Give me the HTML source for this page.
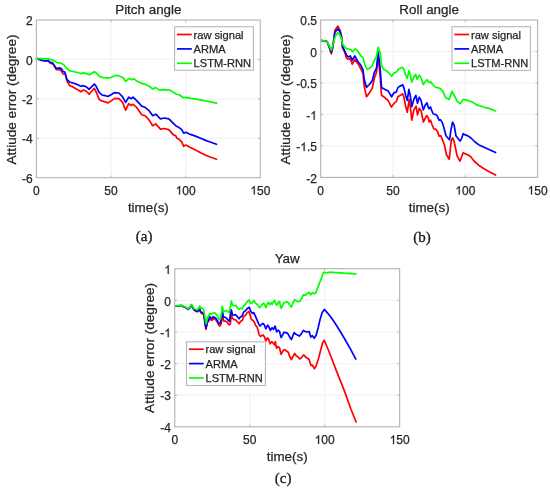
<!DOCTYPE html>
<html><head><meta charset="utf-8"><style>
html,body{margin:0;padding:0;background:#fff;width:550px;height:488px;overflow:hidden}
svg{display:block;filter:blur(0.4px)}
text{font-family:"Liberation Sans",sans-serif;fill:#262626;stroke:#262626;stroke-width:0.25px}
.tk{font-size:12px}
.h1{fill:none;stroke:none}
.g1{fill:#262626;stroke:#262626;stroke-width:40px}
.lb{font-size:13.4px}
.yl{font-size:13.6px}
.lg{font-size:11.1px}
.cap{font-family:"Liberation Serif",serif;font-size:15px;fill:#1a1a1a;stroke:#1a1a1a;stroke-width:0.3px}
</style></head><body>
<svg width="550" height="488" viewBox="0 0 550 488">
<rect width="550" height="488" fill="#fff"/>
<line x1="111.03" y1="20.0" x2="111.03" y2="177.7" stroke="#f3f3f3" stroke-width="1.3"/>
<line x1="185.67" y1="20.0" x2="185.67" y2="177.7" stroke="#f3f3f3" stroke-width="1.3"/>
<line x1="36.4" y1="59.42" x2="260.3" y2="59.42" stroke="#f3f3f3" stroke-width="1.3"/>
<line x1="36.4" y1="98.85" x2="260.3" y2="98.85" stroke="#f3f3f3" stroke-width="1.3"/>
<line x1="36.4" y1="138.27" x2="260.3" y2="138.27" stroke="#f3f3f3" stroke-width="1.3"/>
<line x1="111.03" y1="177.7" x2="111.03" y2="175.5" stroke="#b8b8b8" stroke-width="1"/>
<line x1="111.03" y1="20.0" x2="111.03" y2="22.2" stroke="#b8b8b8" stroke-width="1"/>
<line x1="185.67" y1="177.7" x2="185.67" y2="175.5" stroke="#b8b8b8" stroke-width="1"/>
<line x1="185.67" y1="20.0" x2="185.67" y2="22.2" stroke="#b8b8b8" stroke-width="1"/>
<line x1="36.4" y1="59.42" x2="38.6" y2="59.42" stroke="#b8b8b8" stroke-width="1"/>
<line x1="260.3" y1="59.42" x2="258.1" y2="59.42" stroke="#b8b8b8" stroke-width="1"/>
<line x1="36.4" y1="98.85" x2="38.6" y2="98.85" stroke="#b8b8b8" stroke-width="1"/>
<line x1="260.3" y1="98.85" x2="258.1" y2="98.85" stroke="#b8b8b8" stroke-width="1"/>
<line x1="36.4" y1="138.27" x2="38.6" y2="138.27" stroke="#b8b8b8" stroke-width="1"/>
<line x1="260.3" y1="138.27" x2="258.1" y2="138.27" stroke="#b8b8b8" stroke-width="1"/>
<text x="36.40" y="194.50" class="tk" text-anchor="middle">0</text>
<text x="111.03" y="194.50" class="tk" text-anchor="middle">50</text>
<text x="185.67" y="194.50" class="tk" text-anchor="middle"><tspan class="h1">1</tspan>00</text>
<path d="M763,0L583,0L583,1147Q430,1010 223,905L223,1079Q380,1160 480,1260Q580,1360 646,1466L763,1466Z" transform="translate(175.656,194.50) scale(0.005859,-0.005859)" class="g1"/>
<text x="260.30" y="194.50" class="tk" text-anchor="middle"><tspan class="h1">1</tspan>50</text>
<path d="M763,0L583,0L583,1147Q430,1010 223,905L223,1079Q380,1160 480,1260Q580,1360 646,1466L763,1466Z" transform="translate(250.289,194.50) scale(0.005859,-0.005859)" class="g1"/>
<text x="32.60" y="25.20" class="tk" text-anchor="end">2</text>
<text x="32.60" y="64.62" class="tk" text-anchor="end">0</text>
<text x="32.60" y="104.05" class="tk" text-anchor="end">-2</text>
<text x="32.60" y="143.47" class="tk" text-anchor="end">-4</text>
<text x="32.60" y="182.90" class="tk" text-anchor="end">-6</text>
<text x="148.35" y="14.3" class="lb" text-anchor="middle">Pitch angle</text>
<text x="148.35" y="212.1" class="lb" text-anchor="middle">time(s)</text>
<text transform="translate(15.9,99.5) rotate(-90)" x="0" y="0" class="yl" text-anchor="middle">Attiude error (degree)</text>
<polyline points="36.5,58.6 37.8,58.9 42.2,60.5 48.3,61.1 50.8,63.3 53.2,63.8 56.3,69.7 59.4,69.4 61.8,71.5 63.0,74.0 65.5,74.6 67.4,82.0 69.8,85.7 72.9,86.9 77.2,89.4 80.9,91.8 83.4,90.0 86.4,91.2 89.1,94.3 94.3,88.3 96.2,92.0 99.2,99.4 102.3,101.2 105.4,101.8 107.8,103.0 111.5,100.6 114.6,98.4 118.9,98.7 122.6,102.4 125.7,110.2 128.7,103.7 131.2,105.5 133.0,104.3 136.7,107.4 141.7,114.7 145.0,115.7 148.8,119.6 152.7,125.7 155.8,123.9 160.4,129.1 164.2,128.5 168.8,129.6 173.4,134.9 175.5,135.5 177.0,138.3 179.1,139.3 181.7,141.9 183.7,146.3 185.8,145.1 190.4,147.5 195.5,150.1 200.6,152.7 205.7,155.2 210.9,157.3 216.5,159.3" fill="none" stroke="#ff0000" stroke-width="1.7" stroke-linejoin="round" stroke-linecap="round"/>
<polyline points="36.5,58.6 37.8,58.9 42.2,60.5 45.8,60.8 48.3,60.5 50.1,62.3 52.6,62.9 56.3,68.5 59.4,67.8 61.8,69.1 63.0,71.5 64.9,72.1 66.8,79.5 69.8,82.2 72.9,83.0 77.2,84.4 80.9,86.3 83.4,85.7 86.4,86.9 89.1,89.4 94.3,84.0 96.2,86.4 99.2,92.6 102.3,95.1 105.4,95.7 107.8,96.4 111.5,94.4 114.6,92.6 118.9,93.0 122.6,96.9 125.7,102.4 128.7,97.1 131.2,98.7 133.0,97.1 136.7,100.6 141.7,106.1 145.0,107.3 148.8,110.3 152.7,115.7 155.8,114.2 160.4,118.8 164.2,118.0 168.8,118.8 173.4,123.4 176.0,126.0 179.1,127.6 181.7,129.6 183.7,133.2 185.8,132.2 190.4,134.4 195.5,136.1 200.6,138.3 205.7,140.4 210.9,142.2 216.5,144.3" fill="none" stroke="#0000ff" stroke-width="1.7" stroke-linejoin="round" stroke-linecap="round"/>
<polyline points="36.5,58.6 37.8,58.4 43.4,58.9 48.3,58.9 52.0,59.8 55.7,61.7 57.5,62.9 60.6,62.9 63.7,64.8 66.8,68.5 69.8,70.9 72.9,71.5 77.8,72.5 81.5,73.6 83.4,72.9 86.4,73.6 89.5,74.8 94.3,71.7 96.2,72.9 99.8,76.6 103.5,77.6 108.5,78.2 111.5,77.2 114.6,75.7 118.9,75.7 123.2,77.8 125.7,81.5 128.7,78.5 131.8,79.7 133.7,78.7 136.7,80.9 141.7,83.4 145.0,84.2 149.6,86.5 152.7,89.1 155.8,87.6 159.6,90.1 163.4,89.6 169.6,90.1 173.4,92.2 176.5,94.2 179.6,95.0 183.4,97.7 185.7,97.3 191.1,98.4 198.8,99.6 206.5,101.1 216.5,103.1" fill="none" stroke="#00ff00" stroke-width="1.7" stroke-linejoin="round" stroke-linecap="round"/>
<rect x="36.4" y="20.0" width="223.90" height="157.70" fill="none" stroke="#b8b8b8" stroke-width="1.2"/>
<rect x="174.6" y="26.7" width="78.80" height="43.50" fill="#fff" stroke="#b8b8b8" stroke-width="1.1"/>
<line x1="177.00" y1="34.5" x2="191.80" y2="34.5" stroke="#ff0000" stroke-width="1.7"/>
<text x="193.60" y="38.60" class="lg">raw signal</text>
<line x1="177.00" y1="48.9" x2="191.80" y2="48.9" stroke="#0000ff" stroke-width="1.7"/>
<text x="193.60" y="53.00" class="lg">ARMA</text>
<line x1="177.00" y1="63.3" x2="191.80" y2="63.3" stroke="#00ff00" stroke-width="1.7"/>
<text x="193.60" y="67.40" class="lg">LSTM-RNN</text>
<line x1="393.00" y1="20.0" x2="393.00" y2="177.4" stroke="#f3f3f3" stroke-width="1.3"/>
<line x1="465.30" y1="20.0" x2="465.30" y2="177.4" stroke="#f3f3f3" stroke-width="1.3"/>
<line x1="320.7" y1="51.48" x2="537.6" y2="51.48" stroke="#f3f3f3" stroke-width="1.3"/>
<line x1="320.7" y1="82.96" x2="537.6" y2="82.96" stroke="#f3f3f3" stroke-width="1.3"/>
<line x1="320.7" y1="114.44" x2="537.6" y2="114.44" stroke="#f3f3f3" stroke-width="1.3"/>
<line x1="320.7" y1="145.92" x2="537.6" y2="145.92" stroke="#f3f3f3" stroke-width="1.3"/>
<line x1="393.00" y1="177.4" x2="393.00" y2="175.20000000000002" stroke="#b8b8b8" stroke-width="1"/>
<line x1="393.00" y1="20.0" x2="393.00" y2="22.2" stroke="#b8b8b8" stroke-width="1"/>
<line x1="465.30" y1="177.4" x2="465.30" y2="175.20000000000002" stroke="#b8b8b8" stroke-width="1"/>
<line x1="465.30" y1="20.0" x2="465.30" y2="22.2" stroke="#b8b8b8" stroke-width="1"/>
<line x1="320.7" y1="51.48" x2="322.9" y2="51.48" stroke="#b8b8b8" stroke-width="1"/>
<line x1="537.6" y1="51.48" x2="535.4" y2="51.48" stroke="#b8b8b8" stroke-width="1"/>
<line x1="320.7" y1="82.96" x2="322.9" y2="82.96" stroke="#b8b8b8" stroke-width="1"/>
<line x1="537.6" y1="82.96" x2="535.4" y2="82.96" stroke="#b8b8b8" stroke-width="1"/>
<line x1="320.7" y1="114.44" x2="322.9" y2="114.44" stroke="#b8b8b8" stroke-width="1"/>
<line x1="537.6" y1="114.44" x2="535.4" y2="114.44" stroke="#b8b8b8" stroke-width="1"/>
<line x1="320.7" y1="145.92" x2="322.9" y2="145.92" stroke="#b8b8b8" stroke-width="1"/>
<line x1="537.6" y1="145.92" x2="535.4" y2="145.92" stroke="#b8b8b8" stroke-width="1"/>
<text x="320.70" y="194.50" class="tk" text-anchor="middle">0</text>
<text x="393.00" y="194.50" class="tk" text-anchor="middle">50</text>
<text x="465.30" y="194.50" class="tk" text-anchor="middle"><tspan class="h1">1</tspan>00</text>
<path d="M763,0L583,0L583,1147Q430,1010 223,905L223,1079Q380,1160 480,1260Q580,1360 646,1466L763,1466Z" transform="translate(455.289,194.50) scale(0.005859,-0.005859)" class="g1"/>
<text x="537.60" y="194.50" class="tk" text-anchor="middle"><tspan class="h1">1</tspan>50</text>
<path d="M763,0L583,0L583,1147Q430,1010 223,905L223,1079Q380,1160 480,1260Q580,1360 646,1466L763,1466Z" transform="translate(527.589,194.50) scale(0.005859,-0.005859)" class="g1"/>
<text x="316.90" y="25.20" class="tk" text-anchor="end">0.5</text>
<text x="316.90" y="56.68" class="tk" text-anchor="end">0</text>
<text x="316.90" y="88.16" class="tk" text-anchor="end">-0.5</text>
<text x="316.90" y="119.64" class="tk" text-anchor="end">-<tspan class="h1">1</tspan></text>
<path d="M763,0L583,0L583,1147Q430,1010 223,905L223,1079Q380,1160 480,1260Q580,1360 646,1466L763,1466Z" transform="translate(310.226,119.64) scale(0.005859,-0.005859)" class="g1"/>
<text x="316.90" y="151.12" class="tk" text-anchor="end">-<tspan class="h1">1</tspan>.5</text>
<path d="M763,0L583,0L583,1147Q430,1010 223,905L223,1079Q380,1160 480,1260Q580,1360 646,1466L763,1466Z" transform="translate(300.218,151.12) scale(0.005859,-0.005859)" class="g1"/>
<text x="316.90" y="182.60" class="tk" text-anchor="end">-2</text>
<text x="429.15" y="14.3" class="lb" text-anchor="middle">Roll angle</text>
<text x="429.15" y="212.1" class="lb" text-anchor="middle">time(s)</text>
<text transform="translate(289.8,99.5) rotate(-90)" x="0" y="0" class="yl" text-anchor="middle">Attiude error (degree)</text>
<polyline points="321.2,40.5 322.0,40.5 327.2,41.7 329.2,47.2 331.3,53.8 332.8,47.7 334.9,30.2 337.9,26.1 340.0,30.2 341.5,36.0 342.5,47.7 344.6,51.8 346.6,58.4 348.2,59.4 350.2,58.4 352.3,64.1 354.8,59.4 357.9,63.7 360.7,68.7 362.9,73.0 364.3,86.6 366.5,96.7 369.3,93.1 372.2,88.1 374.4,78.0 376.5,72.3 378.2,56.5 380.1,75.2 381.5,95.3 385.0,97.8 388.2,100.5 391.3,107.0 394.0,103.4 396.2,101.7 397.9,96.8 399.9,95.5 402.8,93.9 404.0,97.6 405.7,106.6 407.3,112.3 409.1,99.6 410.6,109.0 411.8,120.1 413.9,109.9 416.1,106.2 417.5,114.8 419.4,108.2 421.1,110.7 423.3,122.0 426.6,115.6 428.2,117.5 429.2,122.0 430.5,120.2 432.1,124.7 433.7,128.8 435.8,129.2 437.4,131.2 439.1,136.1 440.7,135.7 442.3,139.4 444.4,145.0 446.5,154.7 449.2,159.3 451.2,141.0 452.6,137.8 454.2,141.9 455.5,148.0 457.0,155.6 459.9,161.2 463.1,152.9 467.7,154.7 470.5,156.5 474.0,161.0 478.7,165.2 484.0,168.8 489.2,171.7 495.6,175.1" fill="none" stroke="#ff0000" stroke-width="1.7" stroke-linejoin="round" stroke-linecap="round"/>
<polyline points="321.2,40.5 322.0,40.5 327.2,41.7 329.2,46.6 331.3,52.3 332.8,46.6 334.9,32.3 337.9,28.7 340.0,31.8 341.5,36.9 342.5,46.6 344.6,50.7 346.6,55.3 348.2,56.9 350.2,55.9 352.3,60.0 354.8,55.9 357.9,61.5 360.7,65.1 362.9,69.4 364.3,79.5 366.5,87.4 369.3,84.5 372.2,80.9 374.4,72.3 376.5,68.0 378.2,52.2 380.1,68.0 381.5,87.4 385.1,89.5 388.3,91.1 391.6,96.8 394.0,92.7 396.2,92.2 397.9,87.7 399.9,86.1 402.8,84.9 404.0,88.1 405.7,95.5 407.3,100.4 408.9,89.4 410.2,95.1 411.8,106.6 413.9,99.2 415.9,95.5 417.5,103.3 419.2,97.2 420.8,99.6 423.3,109.9 425.3,105.0 427.0,102.9 428.3,107.5 429.2,108.7 430.5,107.0 431.7,110.3 433.3,114.0 435.4,114.4 437.0,115.7 439.1,120.2 440.7,119.8 442.3,122.6 444.4,129.6 446.0,135.7 447.7,137.8 449.5,139.8 451.0,129.6 452.6,122.2 454.2,125.5 455.9,135.7 457.5,137.8 460.0,141.1 461.6,138.6 463.2,133.7 465.3,134.9 468.0,135.9 471.0,138.0 475.0,142.0 479.0,144.9 484.1,147.3 489.5,149.8 495.6,152.5" fill="none" stroke="#0000ff" stroke-width="1.7" stroke-linejoin="round" stroke-linecap="round"/>
<polyline points="321.2,40.5 322.0,40.5 325.1,41.0 327.2,41.7 329.2,45.6 331.3,50.2 332.8,45.6 334.9,37.4 337.4,32.8 339.5,34.3 341.5,38.4 342.5,44.1 344.6,46.6 346.6,48.7 348.7,49.2 350.7,49.7 352.8,51.8 355.3,48.7 357.9,51.5 360.7,55.8 362.9,57.2 365.0,65.1 367.2,69.4 369.3,68.3 372.2,65.8 374.4,60.1 376.5,56.5 378.2,47.2 380.1,52.2 381.5,65.1 383.7,69.4 386.6,70.9 388.3,72.2 391.6,76.3 394.0,73.0 396.2,72.3 398.3,69.4 400.3,68.2 402.8,67.4 404.0,69.8 405.7,75.2 407.3,78.4 408.9,70.7 410.2,74.3 411.8,82.1 413.4,78.0 415.5,74.3 417.1,79.3 419.2,75.2 420.8,77.2 423.3,84.6 425.3,81.7 427.0,79.7 429.0,82.5 430.7,81.7 432.3,84.2 435.0,87.0 438.3,87.8 440.5,88.8 442.8,91.1 445.5,97.5 449.2,99.4 452.0,91.4 454.8,96.6 457.5,101.8 460.3,103.6 463.1,99.4 467.7,100.3 472.3,102.1 476.9,104.9 484.3,107.3 489.8,108.6 495.6,111.0" fill="none" stroke="#00ff00" stroke-width="1.7" stroke-linejoin="round" stroke-linecap="round"/>
<rect x="320.7" y="20.0" width="216.90" height="157.40" fill="none" stroke="#b8b8b8" stroke-width="1.2"/>
<rect x="452.0" y="26.7" width="78.40" height="43.60" fill="#fff" stroke="#b8b8b8" stroke-width="1.1"/>
<line x1="454.40" y1="34.5" x2="469.20" y2="34.5" stroke="#ff0000" stroke-width="1.7"/>
<text x="471.00" y="38.60" class="lg">raw signal</text>
<line x1="454.40" y1="48.9" x2="469.20" y2="48.9" stroke="#0000ff" stroke-width="1.7"/>
<text x="471.00" y="53.00" class="lg">ARMA</text>
<line x1="454.40" y1="63.3" x2="469.20" y2="63.3" stroke="#00ff00" stroke-width="1.7"/>
<text x="471.00" y="67.40" class="lg">LSTM-RNN</text>
<line x1="249.70" y1="268.7" x2="249.70" y2="426.8" stroke="#f3f3f3" stroke-width="1.3"/>
<line x1="324.65" y1="268.7" x2="324.65" y2="426.8" stroke="#f3f3f3" stroke-width="1.3"/>
<line x1="174.75" y1="300.32" x2="399.6" y2="300.32" stroke="#f3f3f3" stroke-width="1.3"/>
<line x1="174.75" y1="331.94" x2="399.6" y2="331.94" stroke="#f3f3f3" stroke-width="1.3"/>
<line x1="174.75" y1="363.56" x2="399.6" y2="363.56" stroke="#f3f3f3" stroke-width="1.3"/>
<line x1="174.75" y1="395.18" x2="399.6" y2="395.18" stroke="#f3f3f3" stroke-width="1.3"/>
<line x1="249.70" y1="426.8" x2="249.70" y2="424.6" stroke="#b8b8b8" stroke-width="1"/>
<line x1="249.70" y1="268.7" x2="249.70" y2="270.9" stroke="#b8b8b8" stroke-width="1"/>
<line x1="324.65" y1="426.8" x2="324.65" y2="424.6" stroke="#b8b8b8" stroke-width="1"/>
<line x1="324.65" y1="268.7" x2="324.65" y2="270.9" stroke="#b8b8b8" stroke-width="1"/>
<line x1="174.75" y1="300.32" x2="176.95" y2="300.32" stroke="#b8b8b8" stroke-width="1"/>
<line x1="399.6" y1="300.32" x2="397.40000000000003" y2="300.32" stroke="#b8b8b8" stroke-width="1"/>
<line x1="174.75" y1="331.94" x2="176.95" y2="331.94" stroke="#b8b8b8" stroke-width="1"/>
<line x1="399.6" y1="331.94" x2="397.40000000000003" y2="331.94" stroke="#b8b8b8" stroke-width="1"/>
<line x1="174.75" y1="363.56" x2="176.95" y2="363.56" stroke="#b8b8b8" stroke-width="1"/>
<line x1="399.6" y1="363.56" x2="397.40000000000003" y2="363.56" stroke="#b8b8b8" stroke-width="1"/>
<line x1="174.75" y1="395.18" x2="176.95" y2="395.18" stroke="#b8b8b8" stroke-width="1"/>
<line x1="399.6" y1="395.18" x2="397.40000000000003" y2="395.18" stroke="#b8b8b8" stroke-width="1"/>
<text x="174.75" y="443.90" class="tk" text-anchor="middle">0</text>
<text x="249.70" y="443.90" class="tk" text-anchor="middle">50</text>
<text x="324.65" y="443.90" class="tk" text-anchor="middle"><tspan class="h1">1</tspan>00</text>
<path d="M763,0L583,0L583,1147Q430,1010 223,905L223,1079Q380,1160 480,1260Q580,1360 646,1466L763,1466Z" transform="translate(314.639,443.90) scale(0.005859,-0.005859)" class="g1"/>
<text x="399.60" y="443.90" class="tk" text-anchor="middle"><tspan class="h1">1</tspan>50</text>
<path d="M763,0L583,0L583,1147Q430,1010 223,905L223,1079Q380,1160 480,1260Q580,1360 646,1466L763,1466Z" transform="translate(389.589,443.90) scale(0.005859,-0.005859)" class="g1"/>
<text x="170.95" y="273.90" class="tk" text-anchor="end"><tspan class="h1">1</tspan></text>
<path d="M763,0L583,0L583,1147Q430,1010 223,905L223,1079Q380,1160 480,1260Q580,1360 646,1466L763,1466Z" transform="translate(164.276,273.90) scale(0.005859,-0.005859)" class="g1"/>
<text x="170.95" y="305.52" class="tk" text-anchor="end">0</text>
<text x="170.95" y="337.14" class="tk" text-anchor="end">-<tspan class="h1">1</tspan></text>
<path d="M763,0L583,0L583,1147Q430,1010 223,905L223,1079Q380,1160 480,1260Q580,1360 646,1466L763,1466Z" transform="translate(164.276,337.14) scale(0.005859,-0.005859)" class="g1"/>
<text x="170.95" y="368.76" class="tk" text-anchor="end">-2</text>
<text x="170.95" y="400.38" class="tk" text-anchor="end">-3</text>
<text x="170.95" y="432.00" class="tk" text-anchor="end">-4</text>
<text x="287.18" y="262.8" class="lb" text-anchor="middle">Yaw</text>
<text x="287.18" y="461.4" class="lb" text-anchor="middle">time(s)</text>
<text transform="translate(154.3,347.9) rotate(-90)" x="0" y="0" class="yl" text-anchor="middle">Attiude error (degree)</text>
<polyline points="175.3,305.9 178.3,305.9 181.6,305.5 184.0,306.9 186.1,307.8 188.1,309.4 189.8,307.8 191.4,305.0 192.6,307.2 193.9,310.0 195.5,311.0 197.1,311.8 198.8,310.5 199.6,308.6 200.0,311.0 201.2,313.0 202.5,313.9 203.7,314.7 204.9,322.9 205.9,329.4 207.4,322.5 208.6,321.2 210.2,318.8 211.9,320.4 213.5,318.4 215.2,319.2 216.8,321.2 218.4,324.5 219.7,326.1 220.9,324.5 222.0,318.8 222.8,316.3 223.8,321.2 225.4,321.2 227.0,322.0 229.1,324.9 230.3,324.1 231.3,314.3 232.5,318.4 234.1,319.6 235.8,320.0 237.4,322.0 239.1,323.7 240.7,321.2 242.3,320.4 243.6,316.7 245.6,315.1 247.3,312.6 248.9,311.4 250.1,314.7 251.4,319.6 253.0,320.3 254.8,322.9 255.4,325.4 256.9,326.6 258.1,330.3 259.1,334.6 260.3,336.4 261.8,335.5 263.1,334.9 264.6,337.1 265.8,341.0 267.4,338.0 268.6,338.9 270.1,343.8 271.7,341.7 273.2,343.2 274.7,345.0 275.3,341.5 275.8,344.5 276.6,348.2 278.2,346.6 279.5,347.8 281.1,354.3 282.8,351.1 284.2,349.6 286.5,351.0 288.3,352.2 289.7,356.4 291.4,359.7 293.0,356.4 294.7,353.5 296.3,356.0 297.9,356.8 299.6,358.9 301.2,358.0 303.7,354.8 305.3,356.8 307.0,358.0 309.0,359.3 311.0,365.4 312.3,365.0 314.3,368.7 316.0,366.2 318.4,358.9 320.5,350.7 322.5,343.3 324.3,340.2 329.7,353.3 336.3,370.6 344.3,390.6 351.0,409.2 356.1,422.0" fill="none" stroke="#ff0000" stroke-width="1.7" stroke-linejoin="round" stroke-linecap="round"/>
<polyline points="175.3,305.9 178.3,305.9 181.6,305.5 184.0,306.9 186.1,307.8 188.1,309.4 189.8,307.8 191.4,305.0 192.6,307.0 193.9,309.6 195.5,310.6 197.1,311.4 198.8,310.0 199.6,308.0 200.0,310.2 201.2,312.2 202.5,312.6 203.7,313.9 204.9,321.2 205.9,328.2 207.4,322.0 208.6,319.6 209.8,316.7 211.5,318.8 213.1,316.7 214.8,317.5 216.4,318.8 218.0,322.0 219.3,323.7 220.5,322.5 221.5,318.0 222.3,310.6 223.4,317.1 225.0,317.1 226.6,318.4 228.3,320.4 229.5,321.2 230.7,312.2 231.3,309.8 232.5,314.7 234.1,315.1 235.8,314.7 237.4,316.7 239.1,318.8 240.7,316.7 241.9,316.3 243.6,312.2 245.6,310.6 247.3,308.5 249.3,307.3 250.5,310.6 252.2,313.4 253.8,312.6 255.5,316.3 257.5,321.1 258.8,324.1 260.0,326.0 261.5,324.5 263.1,323.5 264.3,324.8 265.8,328.8 267.7,325.1 268.9,326.9 270.4,330.3 272.0,327.8 273.5,329.4 275.0,326.1 275.8,328.5 276.6,331.8 278.2,330.2 279.5,331.4 281.1,337.5 282.8,334.7 284.0,332.2 285.6,332.6 287.7,333.4 289.7,337.1 291.4,339.6 293.0,335.5 294.2,332.6 295.9,334.3 297.5,335.1 299.3,336.1 300.9,334.5 303.4,330.4 305.4,331.6 307.1,332.0 309.1,331.6 310.8,337.0 312.4,335.7 314.2,338.2 316.1,335.3 318.1,328.0 320.2,318.9 322.2,312.4 324.3,309.4 327.2,312.6 330.2,316.3 333.8,321.3 337.3,326.7 341.3,333.2 345.3,340.0 350.5,349.2 355.8,359.1" fill="none" stroke="#0000ff" stroke-width="1.7" stroke-linejoin="round" stroke-linecap="round"/>
<polyline points="175.3,305.7 178.3,305.7 181.6,305.2 184.0,306.5 186.1,307.3 188.1,308.9 189.8,307.3 191.4,304.4 192.6,306.1 193.9,308.5 195.5,309.3 197.1,309.8 198.8,308.5 199.6,306.1 200.8,307.7 202.5,308.5 203.7,309.8 204.9,317.1 206.1,323.7 207.4,318.0 208.6,315.9 209.8,313.4 211.1,314.7 212.3,313.4 213.5,312.6 214.8,313.0 216.4,314.3 218.0,317.1 219.3,319.6 220.5,318.8 221.5,313.0 222.3,306.1 223.4,311.4 224.6,311.0 226.2,310.6 227.9,311.8 229.1,312.6 230.3,307.3 231.3,301.1 232.5,305.2 234.1,305.7 235.8,305.2 237.4,308.1 239.1,309.3 240.7,308.1 241.9,308.9 243.6,305.7 245.2,304.8 246.9,302.0 248.9,299.9 250.5,303.2 252.2,302.8 253.8,300.3 255.5,303.2 256.6,303.9 258.2,305.6 259.4,307.6 260.7,306.4 262.3,304.3 263.5,303.1 264.8,304.8 266.0,307.6 267.2,303.9 268.4,302.3 269.7,304.8 270.9,302.7 272.1,304.3 273.4,301.9 274.6,300.2 275.8,303.9 277.0,305.2 278.3,302.3 279.5,301.5 281.1,308.4 282.4,306.0 283.6,303.1 285.2,302.3 286.9,301.9 288.1,302.3 289.7,305.0 291.4,307.0 293.0,303.0 294.7,299.7 296.3,300.9 298.3,301.7 300.0,301.3 301.6,298.4 303.3,294.8 305.3,295.2 307.4,293.5 309.0,292.3 310.6,294.8 312.3,292.7 313.9,293.9 315.6,293.1 317.2,289.0 318.8,284.9 320.9,279.5 323.3,273.0 324.3,272.2 326.5,272.9 329.3,272.2 336.5,272.6 343.7,273.2 355.9,273.9" fill="none" stroke="#00ff00" stroke-width="1.7" stroke-linejoin="round" stroke-linecap="round"/>
<rect x="186.5" y="341.8" width="78.90" height="43.70" fill="#fff" stroke="#b8b8b8" stroke-width="1.1"/>
<line x1="188.90" y1="349.2" x2="203.70" y2="349.2" stroke="#ff0000" stroke-width="1.7"/>
<text x="205.50" y="353.30" class="lg">raw signal</text>
<line x1="188.90" y1="363.6" x2="203.70" y2="363.6" stroke="#0000ff" stroke-width="1.7"/>
<text x="205.50" y="367.70" class="lg">ARMA</text>
<line x1="188.90" y1="378.0" x2="203.70" y2="378.0" stroke="#00ff00" stroke-width="1.7"/>
<text x="205.50" y="382.10" class="lg">LSTM-RNN</text>
<rect x="174.75" y="268.7" width="224.85" height="158.10" fill="none" stroke="#b8b8b8" stroke-width="1.2"/>
<text x="144.2" y="241" class="cap" text-anchor="middle">(a)</text>
<text x="422" y="242" class="cap" text-anchor="middle">(b)</text>
<text x="283.2" y="483" class="cap" text-anchor="middle">(c)</text>
</svg>
</body></html>
